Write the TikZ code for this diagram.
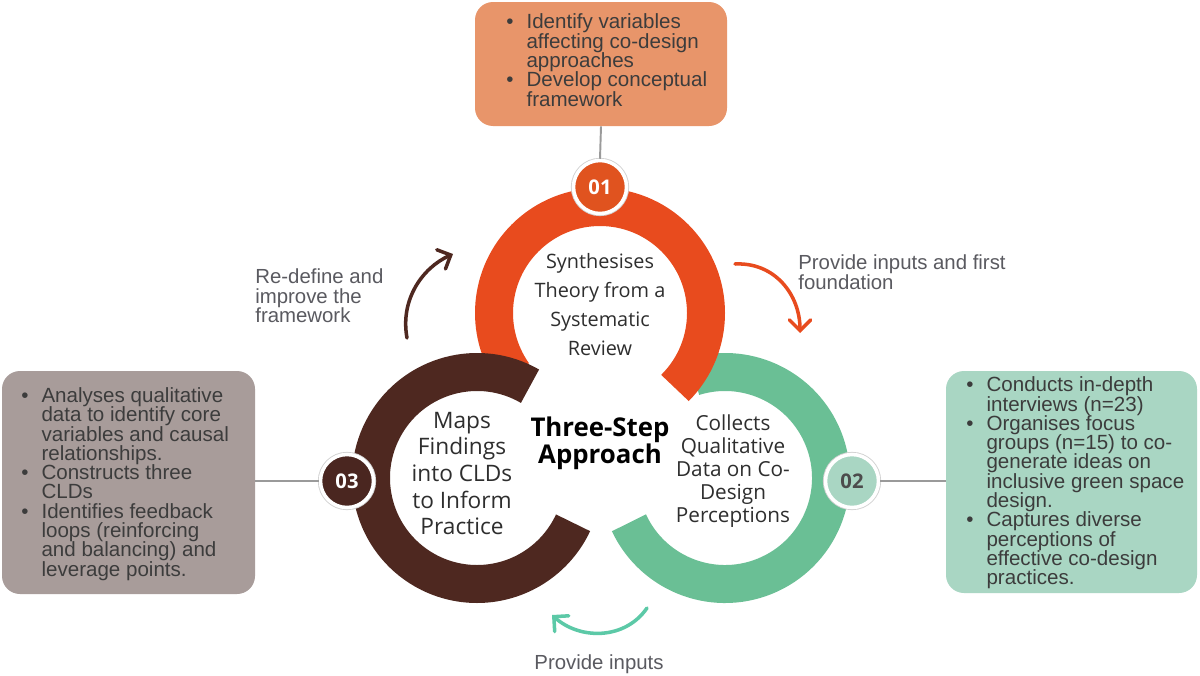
\documentclass[tikz,border=0pt]{standalone}
\usepackage{fontspec}
\setmainfont{Open Sans}
\newfontfamily\arialf{Liberation Sans}
\usetikzlibrary{arrows.meta,fit,calc}
\definecolor{ringorange}{HTML}{E84B1E}
\definecolor{ringbrown}{HTML}{4E2820}
\definecolor{ringgreen}{HTML}{6ABF95}
\definecolor{numorange}{HTML}{E0531F}
\definecolor{numbrown}{HTML}{4A2620}
\definecolor{numgreen}{HTML}{A9D6C3}
\definecolor{boxorange}{HTML}{E8956A}
\definecolor{boxmauve}{HTML}{A89C9A}
\definecolor{boxgreen}{HTML}{A9D6C3}
\definecolor{boxtxt}{HTML}{3C3C3C}
\definecolor{labgray}{HTML}{5A5A60}
\definecolor{conngray}{HTML}{9A9A9A}
\definecolor{arrgreen}{HTML}{5CC9A7}
\newcommand{\bl}{\makebox[11.5pt][l]{\textbullet}}
\newcommand{\ct}{\hspace*{11.5pt}}
\newcommand{\tightlines}{\lineskiplimit-4pt\relax}
\begin{document}
\begin{tikzpicture}[x=0.02cm,y=-0.02cm,
  ring/.style={line width=0.76cm, line cap=butt},
  numc/.style={circle, minimum size=1.06cm, inner sep=0pt, draw=white, line width=2pt,
    preaction={draw=black!18, line width=3pt},
    font=\bfseries\fontsize{11.5}{13}\selectfont},
  boxshape/.style={inner sep=0pt, rounded corners=0.36cm},
  boxtext/.style={inner sep=0pt, align=left, text=boxtxt, font={\arialf\fontsize{11.7}{11}\selectfont\tightlines}},
  lab/.style={inner sep=0pt, align=left, text=labgray, font={\arialf\fontsize{11.6}{11.2}\selectfont\tightlines}},
  circtext/.style={inner sep=0pt, align=center, text=black!82},
  conn/.style={draw=conngray, line width=1.1pt},
  curvarrow/.style={line width=2pt, line cap=round, -{Straight Barb[length=6pt,width=12pt,line cap=round]}}
]
\useasboundingbox (0,0) rectangle (1200,676);
\fill[white] (0,0) rectangle (1200,676);

% ring centres
\coordinate (co) at (600,313);
\coordinate (cb) at (477,478);
\coordinate (cg) at (725,478);

% rings (green, then orange, then brown on top)
\draw[ring, ringgreen] ($(cg)+(155:106)$) arc[start angle=155, end angle=-107, radius=106];
\draw[ring, ringorange] ($(co)+(45:106)$) arc[start angle=45, end angle=-215, radius=106];
\draw[ring, ringbrown] ($(cb)+(-60:106)$) arc[start angle=-60, end angle=-335, radius=106];

% boxes
\node[boxshape, fill=boxorange, fit={(475,2) (727,126)}] (topbox) {};
\node[boxshape, fill=boxmauve, fit={(2,371) (255,594)}] (leftbox) {};
\node[boxshape, fill=boxgreen, fit={(946,371) (1197,593)}] (rightbox) {};

\node[boxtext, anchor=west] (toptext) at (506,60) {\bl Identify variables\\ \ct affecting co-design\\ \ct approaches\\ \bl Develop conceptual\\ \ct framework};
\node[boxtext, anchor=west] (lefttext) at (21,484) {\bl Analyses qualitative\\ \ct data to identify core\\ \ct variables and causal\\ \ct relationships.\\ \bl Constructs three\\ \ct CLDs\\ \bl Identifies feedback\\ \ct loops (reinforcing\\ \ct and balancing) and\\ \ct leverage points.};
\node[boxtext, anchor=west] (righttext) at (966,483) {\bl Conducts in-depth\\ \ct interviews (n=23)\\ \bl Organises focus\\ \ct groups (n=15) to co-\\ \ct generate ideas on\\ \ct inclusive green space\\ \ct design.\\ \bl Captures diverse\\ \ct perceptions of\\ \ct effective co-design\\ \ct practices.};

% number circles
\node[numc, fill=numorange, text=white] (n1) at (600,187) {01};
\node[numc, fill=numbrown, text=white] (n3) at (347,481) {03};
\node[numc, fill=numgreen, text=black!70] (n2) at (852,481) {02};

% connectors
\draw[conn] (topbox.south) -- (n1.north);
\draw[conn] (leftbox.east |- n3.west) -- (n3.west);
\draw[conn] (n2.east) -- (rightbox.west |- n2.east);

% circle texts
\node[circtext, font=\fontsize{11.3}{16.5}\selectfont] (torange) at (600,305) {Synthesises\\Theory from a\\Systematic\\Review};
\node[circtext, font=\fontsize{12.9}{15.1}\selectfont] (tbrown) at (462,473.5) {Maps\\Findings\\into CLDs\\to Inform\\Practice};
\node[circtext, font=\fontsize{11.8}{13.1}\selectfont] (tgreen) at (733,471.5) {Collects\\Qualitative\\Data on Co-\\Design\\Perceptions};
\node[circtext, text=black, font=\bfseries\fontsize{14.7}{15.2}\selectfont] (tcenter) at (600,443.5) {Three-Step\\Approach};

% arrow labels
\node[lab, anchor=west] (lab3) at (255,296) {Re-define and\\improve the\\framework};
\node[lab, anchor=west] (lab1) at (798,272.5) {Provide inputs and first\\foundation};
\node[lab, anchor=center] (lab2) at (599,664) {Provide inputs};

% curved arrows
\coordinate (a3s) at (407,338);
\coordinate (a3e) at (453,254);
\coordinate (a1s) at (735,264);
\coordinate (a1e) at (800,333);
\coordinate (a2s) at (647,608);
\coordinate (a2e) at (552,615);
\draw[curvarrow, ringbrown] (a3s) .. controls (400,300) and (422,268) .. (a3e);
\draw[curvarrow, ringorange] (a1s) .. controls (775,262) and (800,295) .. (a1e);
\draw[curvarrow, arrgreen] (a2s) .. controls (625,640) and (580,640) .. (a2e);
\end{tikzpicture}
\end{document}
